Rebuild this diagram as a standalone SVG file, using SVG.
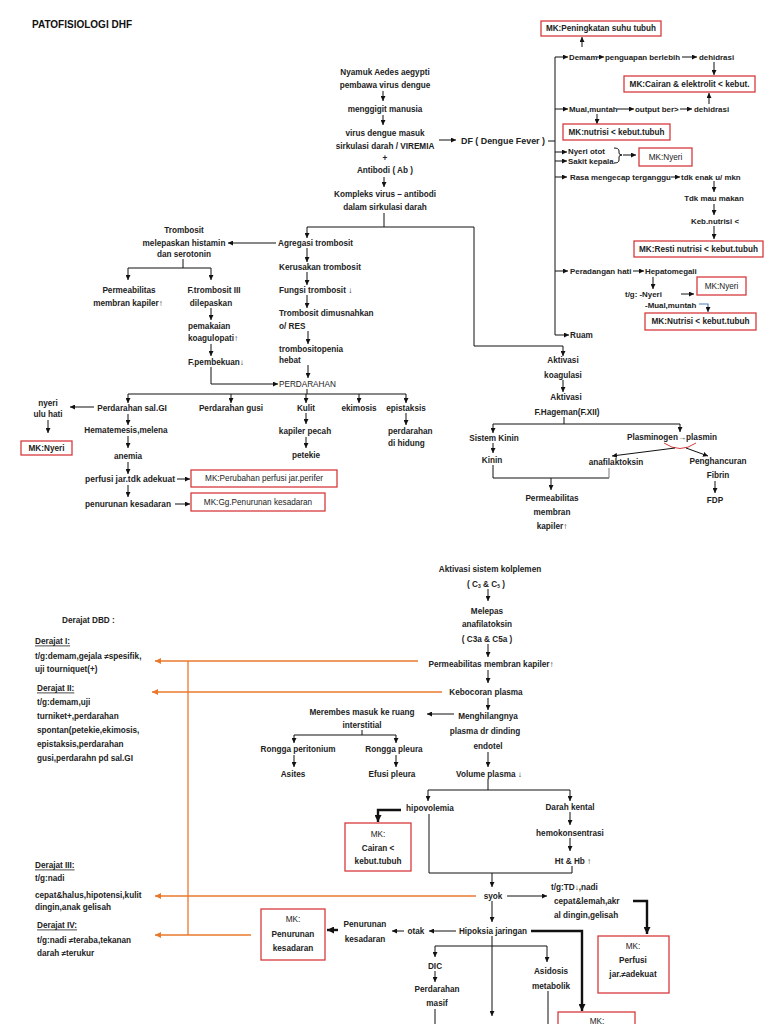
<svg xmlns="http://www.w3.org/2000/svg" width="768" height="1024" viewBox="0 0 768 1024">
<style>
text{font-family:"Liberation Sans",Arial,sans-serif;font-size:8.2px;font-weight:bold;fill:#222;text-anchor:middle;dominant-baseline:central}
text.l{text-anchor:start}
text.n{font-weight:normal}
text.s{font-size:7.9px}
.title{font-size:10px;text-anchor:start;fill:#111}
.box{fill:#fff;stroke:#d63a3c;stroke-width:1.3}
.c path{fill:none;stroke:#111;stroke-width:1}
.c path.a{marker-end:url(#ah)}
.c path.k{stroke-width:2.4;marker-end:url(#ahk)}
.c path.o{stroke:#e8792b;stroke-width:1.3}
.c path.oa{stroke:#e8792b;stroke-width:1.3;marker-end:url(#aho)}
.c path.g{stroke:#777}
.c path.r{stroke:#d63a3c}
.c path.b{stroke:#4a7ebb;stroke-width:1.2;marker-end:url(#ah)}
</style>
<defs>
<marker id="ah" viewBox="0 0 10 10" refX="10" refY="5" markerWidth="5" markerHeight="5" markerUnits="userSpaceOnUse" orient="auto"><path d="M0,0L10,5L0,10z" fill="#111"/></marker>
<marker id="ahk" viewBox="0 0 10 10" refX="10" refY="5" markerWidth="7" markerHeight="7" markerUnits="userSpaceOnUse" orient="auto"><path d="M0,0L10,5L0,10z" fill="#111"/></marker>
<marker id="aho" viewBox="0 0 10 10" refX="10" refY="5" markerWidth="6" markerHeight="6" markerUnits="userSpaceOnUse" orient="auto"><path d="M0,0L10,5L0,10z" fill="#e8792b"/></marker>
</defs>
<rect width="768" height="1024" fill="#fff"/>
<text class="title" x="32" y="24">PATOFISIOLOGI DHF</text>

<g class="c" id="connectors">
<path class="a" d="M383,91V101"/>
<path class="a" d="M383,115V125"/>
<path class="a" d="M384,177V187"/>
<path d="M384,213V227M307,227H474"/>
<path class="a" d="M307,227V238"/>
<path class="a" d="M276,243H228"/>
<path d="M183,259V268M128,268H211"/>
<path class="a" d="M128,268V280"/>
<path class="a" d="M211,268V280"/>
<path class="a" d="M211,308V320"/>
<path class="a" d="M211,344V356"/>
<path class="a" d="M211,367V384H278"/>
<path class="a" d="M307,248V262"/>
<path class="a" d="M307,272V285"/>
<path class="a" d="M307,295V308"/>
<path class="a" d="M308,331V344"/>
<path class="a" d="M308,365V378"/>
<path d="M307,389V394M128,394H406"/>
<path class="a" d="M128,394V403"/>
<path class="a" d="M231,394V403"/>
<path class="a" d="M306,394V403"/>
<path class="a" d="M359,394V403"/>
<path class="a" d="M406,394V403"/>
<path class="a" d="M94,407H70"/>
<path class="a" d="M48,420V433"/>
<path class="a" d="M128,414V425"/>
<path class="a" d="M128,436V448"/>
<path class="a" d="M128,462V474"/>
<path class="a" d="M177,479H190"/>
<path class="a" d="M128,485V497"/>
<path class="a" d="M175,504H190"/>
<path class="a" d="M306,413V424"/>
<path class="a" d="M306,437V448"/>
<path class="a" d="M406,413V425"/>
<path d="M474,227V346H563"/>
<path class="a" d="M563,346V356"/>
<path class="a" d="M563,380V392"/>
<path d="M564,417V424M493,424H680"/>
<path class="a" d="M493,424V433"/>
<path class="a" d="M680,424V432"/>
<path class="a" d="M493,443V453"/>
<path d="M493,465V478H609"/>
<path class="g" d="M609,468V478"/>
<path class="a" d="M551,478V490"/>
<path class="r" d="M664,443Q680,454 696,443"/>
<path class="a" d="M675,448L612,456"/>
<path class="a" d="M686,448L708,456"/>
<path class="a" d="M715,481V493"/>
<path class="a" d="M439,140H456"/>
<path d="M548,141H555M555,57V335"/>
<path class="a" d="M555,57H568"/>
<path class="a" d="M597,57H604"/>
<path class="a" d="M682,57H697"/>
<path class="a" d="M582,47V37"/>
<path class="a" d="M714,62V75"/>
<path class="a" d="M555,109H568"/>
<path class="a" d="M617,109H634"/>
<path class="a" d="M680,109H692"/>
<path class="a" d="M709,104V93"/>
<path class="a" d="M597,114V124"/>
<path class="a" d="M555,152H567"/>
<path class="a" d="M555,161H567"/>
<path d="M614,148Q619,148 619,151V153Q619,155 622,155Q619,155 619,157V160Q619,163 614,163"/>
<path class="a" d="M623,155H636"/>
<path class="a" d="M555,177H567"/>
<path class="a" d="M671,177H680"/>
<path class="a" d="M714,181V192"/>
<path class="a" d="M714,204V215"/>
<path class="a" d="M714,226V239"/>
<path class="a" d="M555,271H568"/>
<path class="a" d="M633,271H644"/>
<path class="a" d="M653,277V289"/>
<path class="a" d="M681,294H694"/>
<path class="b" d="M699,304H708V312"/>
<path class="a" d="M555,335H569"/>
<path class="a" d="M488,589V601"/>
<path class="a" d="M488,644V657"/>
<path class="a" d="M488,670V683"/>
<path class="a" d="M488,698V710"/>
<path class="a" d="M454,714H427"/>
<path d="M362,730V735M294,735H396"/>
<path class="a" d="M294,735V743"/>
<path class="a" d="M396,735V743"/>
<path class="a" d="M294,755V767"/>
<path class="a" d="M396,755V767"/>
<path class="a" d="M488,752V767"/>
<path d="M488,779V790M428,790H570"/>
<path class="a" d="M428,790V801"/>
<path class="a" d="M570,790V801"/>
<path class="k" d="M401,810H378V822"/>
<path d="M429,814V873H572V866"/>
<path class="a" d="M492,873V887"/>
<path class="a" d="M570,812V825"/>
<path class="a" d="M570,838V851"/>
<path class="a" d="M507,896H547"/>
<path class="k" d="M633,901H647V934"/>
<path class="a" d="M492,901V922"/>
<path class="a" d="M456,931H429"/>
<path class="a" d="M404,931H392"/>
<path class="k" d="M338,930H327"/>
<path class="k" d="M531,931H582V1011"/>
<path class="a" d="M492,936V1016"/>
<path d="M435,946H547"/>
<path class="a" d="M435,946V957"/>
<path class="a" d="M547,946V962"/>
<path class="a" d="M435,971V982"/>
<path d="M435,1009V1024"/>
<path d="M548,991V1024"/>
<path class="oa" d="M418,661H155"/>
<path class="oa" d="M442,692H152"/>
<path class="oa" d="M476,896H155"/>
<path class="oa" d="M251,935H155"/>
<path class="o" d="M188,661V935"/>
</g>

<g id="n-nyamuk"><text x="385" y="72">Nyamuk Aedes aegypti</text><text x="385" y="85">pembawa virus dengue</text></g>
<g id="n-gigit"><text x="385" y="109">menggigit manusia</text></g>
<g id="n-viremia"><text x="385" y="133">virus dengue masuk</text><text x="385" y="146">sirkulasi darah / VIREMIA</text><text x="385" y="158">+</text><text x="385" y="170">Antibodi ( Ab )</text></g>
<g id="n-kompleks"><text x="385" y="194">Kompleks virus – antibodi</text><text x="385" y="207">dalam sirkulasi darah</text></g>
<g id="n-agregasi"><text class="l" x="278" y="243">Agregasi trombosit</text></g>
<g id="n-histamin"><text x="184" y="230">Trombosit</text><text x="184" y="243">melepaskan histamin</text><text x="184" y="254">dan serotonin</text></g>
<g id="n-perm1"><text x="129" y="290">Permeabilitas</text><text x="128" y="303">membran kapiler↑</text></g>
<g id="n-ftromb"><text x="214" y="290">F.trombosit III</text><text x="211" y="303">dilepaskan</text></g>
<g id="n-pemakaian"><text class="l" x="188" y="326">pemakaian</text><text class="l" x="188" y="338">koagulopati↑</text></g>
<g id="n-pembekuan"><text class="l" x="188" y="362">F.pembekuan↓</text></g>
<g id="n-kerusakan"><text class="l" x="279" y="267">Kerusakan trombosit</text></g>
<g id="n-fungsi"><text class="l" x="279" y="290">Fungsi trombosit ↓</text></g>
<g id="n-res"><text class="l" x="279" y="313">Trombosit dimusnahkan</text><text class="l" x="279" y="326">o/ RES</text></g>
<g id="n-tpenia"><text class="l" x="279" y="349">trombositopenia</text><text class="l" x="279" y="360">hebat</text></g>
<g id="n-perdarahan"><text class="l" x="279" y="384" style="font-weight:normal">PERDARAHAN</text></g>
<g id="n-salgi"><text x="132" y="408">Perdarahan sal.GI</text></g>
<g id="n-gusi"><text x="231" y="408">Perdarahan gusi</text></g>
<g id="n-kulit"><text x="306" y="408">Kulit</text></g>
<g id="n-ekimosis"><text x="359" y="408">ekimosis</text></g>
<g id="n-epistaksis"><text x="406" y="408">epistaksis</text></g>
<g id="n-uluhati"><text x="48" y="403">nyeri</text><text x="48" y="414">ulu hati</text></g>
<g id="mk-nyeri1"><rect class="box" x="21" y="441" width="51" height="14"/><text x="46.5" y="448">MK:Nyeri</text></g>
<g id="n-hematemesis"><text x="126" y="430">Hematemesis,melena</text></g>
<g id="n-anemia"><text x="128" y="456">anemia</text></g>
<g id="n-perfusi"><text x="130" y="479" textLength="90" lengthAdjust="spacingAndGlyphs">perfusi jar.tdk adekuat</text></g>
<g id="mk-perfusi"><rect class="box" x="191" y="470" width="146" height="17"/><text class="n" x="264" y="478.5">MK:Perubahan perfusi jar.perifer</text></g>
<g id="n-penurunan1"><text x="128" y="504" textLength="86" lengthAdjust="spacingAndGlyphs">penurunan kesadaran</text></g>
<g id="mk-gg"><rect class="box" x="191" y="493" width="134" height="18"/><text class="n" x="258" y="502">MK:Gg.Penurunan kesadaran</text></g>
<g id="n-kapiler"><text x="305" y="431">kapiler pecah</text></g>
<g id="n-petekie"><text x="306" y="455">petekie</text></g>
<g id="n-hidung"><text class="l" x="388" y="431">perdarahan</text><text class="l" x="388" y="443">di hidung</text></g>

<g id="n-koagulasi"><text x="563" y="360">Aktivasi</text><text x="563" y="375">koagulasi</text></g>
<g id="n-hageman"><text x="566" y="397">Aktivasi</text><text x="567" y="412">F.Hageman(F.XII)</text></g>
<g id="n-sistemkinin"><text x="494" y="438">Sistem Kinin</text></g>
<g id="n-kinin"><text x="492" y="460">Kinin</text></g>
<g id="n-plasmin"><text x="672" y="437">Plasminogen→plasmin</text></g>
<g id="n-anafil"><text x="616" y="462">anafilaktoksin</text></g>
<g id="n-fibrin"><text x="718" y="461">Penghancuran</text><text x="718" y="475">Fibrin</text></g>
<g id="n-fdp"><text x="715" y="500">FDP</text></g>
<g id="n-perm2"><text x="552" y="498">Permeabilitas</text><text x="552" y="512">membran</text><text x="552" y="526">kapiler↑</text></g>

<g id="n-df"><text class="l" x="461" y="141" textLength="84" lengthAdjust="spacingAndGlyphs">DF ( Dengue Fever )</text></g>
<g id="mk-suhu"><rect class="box" x="541" y="21" width="120" height="15"/><text x="601" y="28.5" textLength="110" lengthAdjust="spacingAndGlyphs">MK:Peningkatan suhu tubuh</text></g>
<g id="n-demam"><text class="l s" x="569" y="57">Demam</text><text class="l s" x="605" y="57">penguapan berlebih</text><text class="l s" x="699" y="57">dehidrasi</text></g>
<g id="mk-cairan1"><rect class="box" x="624" y="76" width="131" height="16"/><text x="689.5" y="84" textLength="120" lengthAdjust="spacingAndGlyphs">MK:Cairan &amp; elektrolit &lt; kebut.</text></g>
<g id="n-mual"><text class="l s" x="569" y="109">Mual,muntah</text><text class="l s" x="635" y="109">output ber&gt;</text><text class="l s" x="694" y="109">dehidrasi</text></g>
<g id="mk-nutrisi1"><rect class="box" x="563" y="124" width="107" height="16"/><text x="616.5" y="132" textLength="96" lengthAdjust="spacingAndGlyphs">MK:nutrisi &lt; kebut.tubuh</text></g>
<g id="n-nyeriotot"><text class="l s" x="568" y="151">Nyeri otot</text><text class="l s" x="568" y="161">Sakit kepala</text></g>
<g id="mk-nyeri2"><rect class="box" x="639" y="148" width="53" height="18"/><text class="n" x="665.5" y="157">MK:Nyeri</text></g>
<g id="n-rasa"><text class="l s" x="570" y="177">Rasa mengecap terganggu</text><text class="l s" x="681" y="177">tdk enak u/ mkn</text></g>
<g id="n-tdkmau"><text class="s" x="714" y="198">Tdk mau makan</text></g>
<g id="n-kebnutrisi"><text class="s" x="715" y="221">Keb.nutrisi &lt;</text></g>
<g id="mk-resti"><rect class="box" x="634" y="241" width="129" height="16"/><text x="698.5" y="249" textLength="119" lengthAdjust="spacingAndGlyphs">MK:Resti nutrisi &lt; kebut.tubuh</text></g>
<g id="n-hati"><text class="l s" x="570" y="271">Peradangan hati</text><text class="l s" x="645" y="271">Hepatomegali</text></g>
<g id="n-tg1"><text class="l s" x="625" y="294">t/g: -Nyeri</text><text class="l s" x="645" y="305">-Mual,muntah</text></g>
<g id="mk-nyeri3"><rect class="box" x="697" y="277" width="49" height="18"/><text class="n" x="721.5" y="286">MK:Nyeri</text></g>
<g id="mk-nutrisi2"><rect class="box" x="645" y="313" width="111" height="17"/><text x="700.5" y="321.5" textLength="98" lengthAdjust="spacingAndGlyphs">MK:Nutrisi &lt; kebut.tubuh</text></g>
<g id="n-ruam"><text class="l" x="570" y="335">Ruam</text></g>

<g id="n-komplemen"><text x="490" y="569">Aktivasi sistem kolplemen</text><text x="486" y="584">( C<tspan font-size="5" dy="2">3</tspan><tspan dy="-2"> &amp; C</tspan><tspan font-size="5" dy="2">5</tspan><tspan dy="-2"> )</tspan></text></g>
<g id="n-melepas"><text x="487" y="611">Melepas</text><text x="487" y="624">anafilatoksin</text><text x="487" y="639">( C3a &amp; C5a )</text></g>
<g id="n-perm3"><text x="491" y="664">Permeabilitas membran kapiler↑</text></g>
<g id="n-kebocoran"><text x="486" y="692">Kebocoran plasma</text></g>
<g id="n-menghilang"><text x="488" y="716">Menghilangnya</text><text x="485" y="731">plasma dr dinding</text><text x="488" y="746">endotel</text></g>
<g id="n-merembes"><text x="362" y="712">Merembes masuk ke ruang</text><text x="362" y="725">interstitial</text></g>
<g id="n-peritonium"><text x="298" y="749">Rongga peritonium</text></g>
<g id="n-pleura"><text x="394" y="749">Rongga pleura</text></g>
<g id="n-asites"><text x="293" y="774">Asites</text></g>
<g id="n-efusi"><text x="392" y="774">Efusi pleura</text></g>
<g id="n-volume"><text x="489" y="774">Volume plasma ↓</text></g>
<g id="n-hipovolemia"><text x="430" y="808">hipovolemia</text></g>
<g id="mk-cairan2"><rect class="box" x="345" y="823" width="66" height="48"/><text class="n" x="378" y="834">MK:</text><text x="378" y="848">Cairan &lt;</text><text x="378" y="861">kebut.tubuh</text></g>
<g id="n-darahkental"><text x="570" y="807">Darah kental</text></g>
<g id="n-hemokon"><text x="570" y="833">hemokonsentrasi</text></g>
<g id="n-hthb"><text x="573" y="861">Ht &amp; Hb ↑</text></g>
<g id="n-syok"><text x="493" y="896">syok</text></g>
<g id="n-tg2"><text class="l" x="551" y="887">t/g:TD↓,nadi</text><text class="l" x="554" y="901">cepat&amp;lemah,akr</text><text class="l" x="554" y="915">al dingin,gelisah</text></g>
<g id="mk-perfusi2"><rect class="box" x="598" y="936" width="71" height="57"/><text class="n" x="633" y="946">MK:</text><text x="633" y="960">Perfusi</text><text x="633" y="974">jar.≠adekuat</text></g>
<g id="n-hipoksia"><text x="493" y="931">Hipoksia jaringan</text></g>
<g id="n-otak"><text x="416" y="931">otak</text></g>
<g id="n-penurunan2"><text x="365" y="924">Penurunan</text><text x="365" y="939">kesadaran</text></g>
<g id="mk-penurunan"><rect class="box" x="261" y="909" width="64" height="51"/><text class="n" x="293" y="919">MK:</text><text x="293" y="934">Penurunan</text><text x="293" y="948">kesadaran</text></g>
<g id="mk-bottom"><rect class="box" x="558" y="1012" width="77" height="20"/><text class="n" x="597" y="1021">MK:</text></g>
<g id="n-dic"><text x="435" y="966">DIC</text></g>
<g id="n-masif"><text x="437" y="989">Perdarahan</text><text x="437" y="1003">masif</text></g>
<g id="n-asidosis"><text x="551" y="971">Asidosis</text><text x="551" y="986">metabolik</text></g>

<g id="derajat">
<text class="l" x="62" y="620">Derajat DBD :</text>
<text class="l" x="35" y="641" text-decoration="underline">Derajat I:</text>
<text class="l" x="35" y="656">t/g:demam,gejala  ≠spesifik,</text>
<text class="l" x="35" y="669">uji tourniquet(+)</text>
<text class="l" x="37" y="688" text-decoration="underline">Derajat II:</text>
<text class="l" x="37" y="702">t/g:demam,uji</text>
<text class="l" x="37" y="716">turniket+,perdarahan</text>
<text class="l" x="37" y="730">spontan(petekie,ekimosis,</text>
<text class="l" x="37" y="744">epistaksis,perdarahan</text>
<text class="l" x="37" y="758">gusi,perdarahn pd sal.GI</text>
<text class="l" x="35" y="865" text-decoration="underline">Derajat III:</text>
<text class="l" x="35" y="878">t/g:nadi</text>
<text class="l" x="35" y="895">cepat&amp;halus,hipotensi,kulit</text>
<text class="l" x="35" y="907">dingin,anak gelisah</text>
<text class="l" x="37" y="925" text-decoration="underline">Derajat IV:</text>
<text class="l" x="37" y="940">t/g:nadi ≠teraba,tekanan</text>
<text class="l" x="37" y="953">darah ≠terukur</text>
</g>
</svg>
